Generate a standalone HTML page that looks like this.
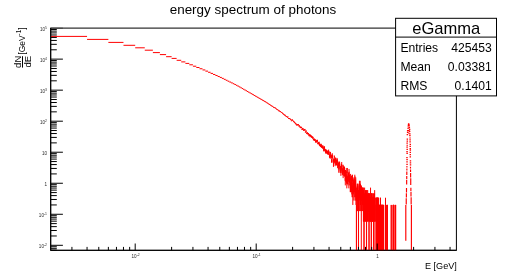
<!DOCTYPE html>
<html><head><meta charset="utf-8"><title>energy spectrum of photons</title>
<style>
html,body{margin:0;padding:0;background:#fff;}
body{width:507px;height:278px;overflow:hidden;}
svg{display:block;}
text{font-family:"Liberation Sans",sans-serif;fill:#000;}
.tl text{fill:#2a2a2a;}
</style></head><body>
<svg width="507" height="278" viewBox="0 0 507 278">
<rect width="507" height="278" fill="#fff"/>
<rect x="50.7" y="28.1" width="405.70" height="222.20" fill="none" stroke="#000" stroke-width="1"/>
<path d="M50.62 36.40H87.05M87.05 39.40H108.36M108.36 42.40H123.47M123.47 45.30H135.20M135.20 47.80H144.78M144.78 50.20H152.88M152.88 52.60H159.90M159.90 54.60H166.09M166.09 56.70H171.62M171.62 58.40H176.63M176.63 60.30H181.21M181.21 61.90H185.41M185.41 63.40H189.31M189.31 64.80H192.93M192.93 66.20H196.32M196.32 67.50H199.51M199.51 68.76H202.51M202.51 69.95H205.35M205.35 71.11H208.05M208.05 72.28H210.61M210.61 73.40H213.06M213.06 74.47H215.39M215.39 75.49H217.63M217.63 76.47H219.78M219.78 77.41H221.84M221.84 78.37H223.82M223.82 79.34H225.73M225.73 80.28H227.57M227.57 81.19H229.36M229.36 82.06H231.08M231.08 82.91H232.75M232.75 83.73H234.36M234.36 84.53H235.93M235.93 85.30H237.46M237.46 86.10H238.94M238.94 86.94H240.38M240.38 87.75H241.78M241.78 88.54H243.14M243.14 89.31H244.47M244.47 90.06H245.77M245.77 90.80H247.04M247.04 91.51H248.27M248.27 92.21H249.48M249.48 92.90H250.66M250.66 93.57H251.82M251.82 94.22H252.95M252.95 94.86H254.05M254.05 95.50H255.14M255.14 96.12H256.20M256.20 96.73H257.24M257.24 97.33H258.26M258.26 97.91H259.26M259.26 98.49H260.24M260.24 99.06H261.21M261.21 99.61H262.16M262.16 100.15H263.09M263.09 100.69H264.00M264.00 101.22H264.90M264.90 101.73H265.78M265.78 102.28H266.65M266.65 102.85H267.50M267.50 103.42H268.34M268.34 103.97H269.17M269.17 104.52H269.99M269.99 105.06H270.79M270.79 105.59H271.58M271.58 106.11H272.36M272.36 106.46H273.13M273.13 107.23H273.88M273.88 107.65H274.63M274.63 107.72H275.36M275.36 108.31H276.09M276.09 109.02H276.80M276.80 109.48H277.51M277.51 109.89H278.20M278.20 110.76H278.89M278.89 110.79H279.57M279.57 111.54H280.24M280.24 111.52H280.90M280.90 112.39H281.55M281.55 112.54H282.20M282.20 113.25H282.83M282.83 113.80H283.46M283.46 114.52H284.08M284.08 114.95H284.70M284.70 115.15H285.31M285.31 115.75H285.91M285.91 116.58H286.50M286.50 116.47H287.09M287.09 117.28H287.67M287.67 116.93H288.24M288.24 118.35H288.81M288.81 118.59H289.37M289.37 118.47H289.93M289.93 119.07H290.48M290.48 119.60H291.02M291.02 120.78H291.56M291.56 120.04H292.10M292.10 119.86H292.62M292.62 120.56H293.15M293.15 121.66H293.67M293.67 121.45H294.18M294.18 122.40H294.69M294.69 122.78H295.19M295.19 123.75H295.69M295.69 123.67H296.18M296.18 124.87H296.67M296.67 124.73H297.15M297.15 124.69H297.63M297.63 124.94H298.11M298.11 124.52H298.58M298.58 125.92H299.05M299.05 125.60H299.51M299.51 126.75H299.97M299.97 127.06H300.42M300.42 127.42H300.88M300.88 127.83H301.32M301.32 127.33H301.77M301.77 129.47H302.21M302.21 128.46H302.64M302.64 129.37H303.07M303.07 128.98H303.50M303.50 130.37H303.93M303.93 129.98H304.35M304.35 129.87H304.77M304.77 129.49H305.18M305.18 132.13H305.60M305.60 131.03H306.01M306.01 131.17H306.41M306.41 133.11H306.81M306.81 133.44H307.21M307.21 132.82H307.61M307.61 133.67H308.00M308.00 134.16H308.40M308.40 133.64H308.78M308.78 135.49H309.17M309.17 135.30H309.55M309.55 134.74H309.93M309.93 136.50H310.31M310.31 135.38H310.68M310.68 135.73H311.05M311.05 136.25H311.42M311.42 136.89H311.79M311.79 137.19H312.15M312.15 137.10H312.51M312.51 138.01H312.87M312.87 137.55H313.23M313.23 139.45H313.58M313.58 139.55H313.93M313.93 139.14H314.28M314.28 139.87H314.63M314.63 139.76H314.97M314.97 139.87H315.31M315.31 141.66H315.65M315.65 141.00H315.99M315.99 141.66H316.33M316.33 141.47H316.66M316.66 141.00H316.99M316.99 140.48H317.32M317.32 141.00H317.65M317.65 143.22H317.98M317.98 143.15H318.30M318.30 143.29H318.62M318.62 143.22H318.94M318.94 142.55H319.26M319.26 144.83H319.57M319.57 144.08H319.89M319.89 144.99H320.20M320.20 145.89H320.51M320.51 145.23H320.82M320.82 146.06H321.12M321.12 144.76H321.43M321.43 146.76H321.73M321.73 146.31H322.03M322.03 146.31H322.33M322.33 147.31H322.63M322.63 147.40H322.93M322.93 146.49H323.22M323.22 147.88H323.51M323.51 150.10H323.80M323.80 149.21H324.09M324.09 148.89H324.38M324.38 147.31H324.67M324.67 149.76H324.95M324.95 150.22H325.24M325.24 150.45H325.52M325.52 151.82H325.80M325.80 152.36H326.08M326.08 150.57H326.35M326.35 151.95H326.63M326.63 151.31H326.90M326.90 151.95H327.18M327.18 152.49H327.45M327.45 153.05H327.72M327.72 152.63H327.99M327.99 151.56H328.26M328.26 153.49H328.52M328.52 150.81H328.79M328.79 152.63H329.05M329.05 152.91H329.31M329.31 155.57H329.57M329.57 156.65H329.83M329.83 156.28H330.09M330.09 154.89H330.35M330.35 153.20H330.60M330.60 155.74H330.86M330.86 157.22H331.11M331.11 156.28H331.36M331.36 160.78H331.61M331.61 157.03H331.86M331.86 156.10H332.11M332.11 154.57H332.36M332.36 156.84H332.60M332.60 156.84H332.85M332.85 160.78H333.09M333.09 160.28H333.34M333.34 164.57H333.58M333.58 161.83H333.82M333.82 160.52H334.06M334.06 160.03H334.30M334.30 157.03H334.53M334.53 160.52H334.77M334.77 161.29H335.00M335.00 163.91H335.24M335.24 160.03H335.47M335.47 159.10H335.70M335.70 162.98H335.93M335.93 162.68H336.16M336.16 161.83H336.39M336.39 163.28H336.62M336.62 161.29H336.85M336.85 159.56H337.07M337.07 160.28H337.30M337.30 161.56H337.52M337.52 165.62H337.75M337.75 162.98H337.97M337.97 164.24H338.19M338.19 166.76H338.41M338.41 164.91H338.63M338.63 169.86H338.85M338.85 164.24H339.07M339.07 166.76H339.28M339.28 163.59H339.50M339.50 163.59H339.71M339.71 165.62H339.93M339.93 169.86H340.14M340.14 168.00H340.35M340.35 168.44H340.56M340.56 169.86H340.78M340.78 172.62H340.99M340.99 169.86H341.19M341.19 168.00H341.40M341.40 165.99H341.61M341.61 163.91H341.82M341.82 167.16H342.02M342.02 170.37H342.23M342.23 172.03H342.43M342.43 170.90H342.63M342.63 171.45H342.84M342.84 166.76H343.04M343.04 174.60H343.24M343.24 167.58H343.44M343.44 169.37H343.64M343.64 172.62H343.84M343.84 170.37H344.04M344.04 168.44H344.23M344.23 173.25H344.43M344.43 169.37H344.62M344.62 173.25H344.82M344.82 172.62H345.01M345.01 176.92H345.21M345.21 180.79H345.40M345.40 172.62H345.59M345.59 174.60H345.78M345.78 177.79H345.97M345.97 176.92H346.16M346.16 170.37H346.35M346.35 178.72H346.54M346.54 173.91H346.73M346.73 183.25H346.92M346.92 179.71H347.10M347.10 179.71H347.29M347.29 170.37H347.48M347.48 179.71H347.66M347.66 175.33H347.84M347.84 180.79H348.03M348.03 176.92H348.21M348.21 177.79H348.39M348.39 175.33H348.57M348.57 176.10H348.76M348.76 183.25H348.94M348.94 171.45H349.12M349.12 174.60H349.29M349.29 177.79H349.47M349.47 177.79H349.65M349.65 178.72H349.83M349.83 180.79H350.00M350.00 180.79H350.18M350.18 186.26H350.36M350.36 186.26H350.53M350.53 176.92H350.71M350.71 184.67H350.88M350.88 183.25H351.05M351.05 186.26H351.22M351.22 186.26H351.40M351.40 178.72H351.57M351.57 181.97H351.74M351.74 188.06H351.91M351.91 179.71H352.08M352.08 190.13H352.25M352.25 190.13H352.42M352.42 177.79H352.59M352.59 186.26H352.75M352.75 195.60H352.92M352.92 183.25H353.09M353.09 180.79H353.25M353.25 188.06H353.42M353.42 186.26H353.58M353.58 183.25H353.75M353.75 192.59H353.91M353.91 184.67H354.08M354.08 181.97H354.24M354.24 190.13H354.40M354.40 186.26H354.56M354.56 184.67H354.72M354.72 177.79H354.88M354.88 179.71H355.05M355.05 192.59H355.21M355.21 190.13H355.36M355.36 186.26H355.52M355.52 183.25H355.68M355.68 180.79H355.84M355.84 192.59H356.00M356.00 195.60H356.16M356.16 195.60H356.31M356.31 214.28H356.47M356.47 214.28H356.62M356.62 192.59H356.78M356.78 199.47H356.93M356.93 190.13H357.09M357.09 188.06H357.24M357.24 192.59H357.40M357.40 188.06H357.55M357.55 199.47H357.70M357.70 192.59H357.85M357.85 199.47H358.00M358.00 188.06H358.16M358.16 195.60H358.31M358.46 214.28H358.61M358.61 195.60H358.76M358.76 199.47H358.91M358.91 190.13H359.05M359.05 199.47H359.20M359.20 188.06H359.35M359.35 184.67H359.50M359.50 190.13H359.64M359.64 192.59H359.79M359.79 199.47H359.94M359.94 190.13H360.08M360.08 184.67H360.23M360.23 190.13H360.37M360.37 188.06H360.52M360.52 195.60H360.66M360.66 199.47H360.81M360.81 190.13H360.95M360.95 195.60H361.09M361.09 199.47H361.23M361.23 214.28H361.38M361.38 190.13H361.52M361.66 199.47H361.80M361.80 192.59H361.94M361.94 192.59H362.08M362.08 195.60H362.22M362.22 192.59H362.36M362.36 192.59H362.50M362.50 199.47H362.64M362.64 195.60H362.78M362.78 195.60H362.92M362.92 195.60H363.05M363.05 192.59H363.19M363.19 195.60H363.33M363.33 204.94H363.47M363.47 204.94H363.60M363.60 192.59H363.74M363.74 199.47H363.87M363.87 214.28H364.01M364.01 214.28H364.14M364.14 204.94H364.28M364.28 204.94H364.41M364.41 204.94H364.55M364.55 192.59H364.68M364.68 199.47H364.81M364.81 199.47H364.95M365.08 195.60H365.21M365.21 199.47H365.34M365.34 204.94H365.47M365.47 195.60H365.61M365.61 204.94H365.74M365.87 204.94H366.00M366.00 204.94H366.13M366.13 199.47H366.26M366.26 195.60H366.39M366.39 214.28H366.51M366.51 214.28H366.64M366.64 199.47H366.77M366.77 195.60H366.90M366.90 204.94H367.03M367.03 195.60H367.15M367.15 199.47H367.28M367.41 204.94H367.53M367.66 195.60H367.79M367.79 204.94H367.91M368.04 204.94H368.16M368.16 204.94H368.29M368.29 199.47H368.41M368.41 199.47H368.54M368.66 199.47H368.78M368.78 199.47H368.91M368.91 214.28H369.03M369.03 214.28H369.15M369.27 199.47H369.40M369.40 204.94H369.52M369.52 199.47H369.64M369.76 204.94H369.88M369.88 204.94H370.00M370.00 204.94H370.12M370.36 204.94H370.48M370.48 192.59H370.60M370.72 204.94H370.84M370.84 204.94H370.96M370.96 204.94H371.08M371.19 214.28H371.31M371.31 214.28H371.43M371.43 199.47H371.55M371.55 204.94H371.66M371.66 199.47H371.78M371.78 204.94H371.90M371.90 199.47H372.01M372.01 204.94H372.13M372.13 199.47H372.24M372.24 204.94H372.36M372.36 204.94H372.47M372.47 204.94H372.59M372.93 204.94H373.05M373.05 199.47H373.16M373.16 204.94H373.27M373.39 199.47H373.50M373.50 204.94H373.61M373.61 214.28H373.72M373.72 214.28H373.84M373.84 214.28H373.95M374.17 204.94H374.28M374.39 204.94H374.50M374.50 199.47H374.62M374.62 195.60H374.73M374.73 204.94H374.84M374.84 204.94H374.95M375.82 204.94H375.92M375.92 204.94H376.03M376.03 214.28H376.14M376.14 214.28H376.25M376.25 214.28H376.35M376.35 204.94H376.46M376.46 214.28H376.57M376.57 204.94H376.67M376.67 214.28H376.78M376.78 204.94H376.88M376.88 214.28H376.99M376.99 204.94H377.09M377.09 214.28H377.20M377.20 204.94H377.30M377.30 214.28H377.41M377.41 204.94H377.51M377.51 214.28H377.62M377.62 204.94H377.72M377.72 204.94H377.83M377.83 214.28H377.93M377.93 204.94H378.03M378.03 214.28H378.14M378.14 204.94H378.24M378.24 214.28H378.34M378.34 204.94H378.45M378.45 214.28H378.55M378.55 214.28H378.65M378.65 214.28H378.75M378.75 214.28H378.86M378.86 214.28H378.96M378.96 214.28H379.06M379.06 214.28H379.16M379.16 214.28H379.26M379.26 214.28H379.36M379.36 214.28H379.46M379.46 214.28H379.56M379.56 214.28H379.66M379.66 214.28H379.76M379.76 214.28H379.86M379.86 214.28H379.96M379.96 214.28H380.06M380.06 214.28H380.16M380.16 214.28H380.26M380.26 204.94H380.36M380.36 214.28H380.46M380.46 204.94H380.56M380.56 214.28H380.66M380.66 214.28H380.76M380.76 214.28H380.85M380.85 214.28H380.95M380.95 214.28H381.05M381.05 214.28H381.15M381.15 214.28H381.24M381.24 214.28H381.34M381.34 214.28H381.44M381.44 214.28H381.54M381.54 214.28H381.63M381.63 214.28H381.73M381.73 214.28H381.82M381.82 214.28H381.92M381.92 214.28H382.02M382.02 214.28H382.11M382.11 214.28H382.21M382.21 214.28H382.30M382.30 214.28H382.40M382.40 214.28H382.49M382.49 214.28H382.59M382.59 214.28H382.68M382.68 214.28H382.78M382.78 214.28H382.87M382.87 214.28H382.97M382.97 214.28H383.06M383.06 214.28H383.16M383.16 214.28H383.25M383.25 214.28H383.34M383.34 214.28H383.44M383.44 214.28H383.53M385.27 214.28H385.36M385.36 214.28H385.45M385.45 204.94H385.54M385.54 214.28H385.63M385.63 214.28H385.72M386.87 214.28H386.96M386.96 214.28H387.04M387.04 214.28H387.13M387.13 214.28H387.22M387.22 214.28H387.30M387.30 214.28H387.39M387.39 214.28H387.48M391.15 214.28H391.23M391.23 214.28H391.31M393.13 214.28H393.20M393.20 214.28H393.28M393.28 214.28H393.36M393.36 214.28H393.44M393.44 214.28H393.51M393.51 214.28H393.59M393.59 214.28H393.67M393.67 214.28H393.74M393.74 214.28H393.82M393.82 214.28H393.90M395.40 214.28H395.48M395.48 214.28H395.55M395.55 214.28H395.63M395.63 214.28H395.70M129.66 45.27V45.33M140.21 47.77V47.83M148.99 50.17V50.23M156.51 52.57V52.63M163.08 54.56V54.64M168.93 56.66V56.74M174.19 58.36V58.44M178.97 60.26V60.34M183.35 61.85V61.95M187.40 63.35V63.45M191.15 64.75V64.85M194.65 66.14V66.26M197.94 67.44V67.56M201.03 68.70V68.82M203.95 69.88V70.01M206.72 71.04V71.18M209.35 72.21V72.35M211.85 73.33V73.47M214.24 74.39V74.54M216.52 75.41V75.57M218.71 76.39V76.55M220.82 77.32V77.49M222.84 78.28V78.46M224.78 79.25V79.43M226.66 80.19V80.37M228.47 81.09V81.28M230.22 81.96V82.16M231.92 82.81V83.01M233.56 83.63V83.84M235.16 84.42V84.64M236.70 85.19V85.41M238.20 85.99V86.22M239.66 86.82V87.06M241.08 87.63V87.87M242.47 88.42V88.67M243.81 89.18V89.44M245.13 89.93V90.20M246.41 90.66V90.94M247.66 91.37V91.66M248.88 92.07V92.36M250.08 92.75V93.05M251.24 93.41V93.72M252.39 94.06V94.38M253.50 94.70V95.02M254.60 95.33V95.66M255.67 95.95V96.29M256.72 96.56V96.90M257.75 97.15V97.50M258.76 97.74V98.10M259.76 98.31V98.68M260.73 98.87V99.24M261.68 99.42V99.80M262.62 99.96V100.35M263.54 100.49V100.89M264.45 101.01V101.42M265.34 101.53V101.94M266.22 102.07V102.49M267.08 102.64V103.07M267.93 103.20V103.64M268.76 103.75V104.20M269.58 104.29V104.75M270.39 104.83V105.30M271.19 105.35V105.83M271.97 105.87V106.36M272.74 106.21V106.71M273.50 106.98V107.48M274.26 107.40V107.91M275.00 107.46V107.98M275.73 108.05V108.58M276.45 108.75V109.30M277.16 109.21V109.76M277.86 109.61V110.17M278.55 110.47V111.05M279.23 110.51V111.09M279.90 111.24V111.84M280.57 111.22V111.82M281.23 112.09V112.70M281.87 112.23V112.85M282.52 112.94V113.58M283.15 113.48V114.13M283.77 114.19V114.85M284.39 114.62V115.29M285.00 114.82V115.50M285.61 115.41V116.11M286.20 116.22V116.94M286.80 116.12V116.84M287.38 116.91V117.65M287.96 116.57V117.30M288.53 117.97V118.73M289.09 118.21V118.98M289.65 118.09V118.86M290.21 118.69V119.47M290.75 119.21V120.01M291.29 120.37V121.20M291.83 119.64V120.46M292.36 119.46V120.27M292.89 120.15V120.98M293.41 121.23V122.10M293.92 121.02V121.89M294.43 121.96V122.86M294.94 122.33V123.24M295.44 123.29V124.23M295.93 123.21V124.14M296.43 124.39V125.37M296.91 124.25V125.22M297.39 124.22V125.19M297.87 124.46V125.44M298.34 124.05V125.01M298.81 125.42V126.44M299.28 125.11V126.11M299.74 126.23V127.28M300.20 126.54V127.60M300.65 126.89V127.96M301.10 127.29V128.39M301.54 126.81V127.88M301.99 128.90V130.06M302.42 127.91V129.03M302.86 128.80V129.96M303.29 128.42V129.56M303.72 129.78V130.98M304.14 129.40V130.58M304.56 129.30V130.47M304.98 128.93V130.09M305.39 131.51V132.79M305.80 130.42V131.65M306.21 130.56V131.80M306.61 132.46V133.79M307.01 132.78V134.13M307.41 132.18V133.49M307.81 133.01V134.37M308.20 133.49V134.87M308.59 132.98V134.33M308.98 134.79V136.24M309.36 134.60V136.04M309.74 134.05V135.46M310.12 135.77V137.28M310.49 134.67V136.12M310.87 135.02V136.48M311.24 135.53V137.02M311.60 136.14V137.67M311.97 136.44V137.99M312.33 136.36V137.90M312.69 137.24V138.83M313.05 136.79V138.36M313.40 138.63V140.31M313.76 138.74V140.42M314.11 138.33V139.99M314.45 139.05V140.75M314.80 138.94V140.64M315.14 139.05V140.75M315.48 140.77V142.60M315.82 140.14V141.91M316.16 140.77V142.60M316.50 140.60V142.41M316.83 140.14V141.91M317.16 139.63V141.38M317.49 140.14V141.91M317.81 142.29V144.22M318.14 142.22V144.15M318.46 142.36V144.29M318.78 142.29V144.22M319.10 141.64V143.52M319.42 143.85V145.90M319.73 143.12V145.11M320.04 144.00V146.06M320.35 144.86V147.00M320.66 144.23V146.31M320.97 145.02V147.17M321.28 143.77V145.82M321.58 145.70V147.90M321.88 145.27V147.44M322.18 145.27V147.44M322.48 146.23V148.48M322.78 146.32V148.58M323.07 145.44V147.63M323.37 146.78V149.08M323.66 148.91V151.41M323.95 148.06V150.48M324.24 147.75V150.14M324.52 146.23V148.48M324.81 148.59V151.05M325.09 149.02V151.53M325.38 149.25V151.78M325.66 150.56V153.22M325.94 151.06V153.78M326.22 149.36V151.90M326.49 150.68V153.36M326.77 150.06V152.68M327.04 150.68V153.36M327.31 151.20V153.93M327.58 151.73V154.52M327.85 151.33V154.07M328.12 150.31V152.95M328.39 152.15V154.98M328.65 149.59V152.16M328.92 151.33V154.07M329.18 151.60V154.37M329.44 154.12V157.19M329.70 155.15V158.34M329.96 154.80V157.94M330.22 153.48V156.47M330.47 151.87V154.67M330.73 154.29V157.37M330.98 155.69V158.95M331.24 154.80V157.94M331.49 159.04V162.77M331.74 155.51V158.74M331.99 154.62V157.75M332.24 153.17V156.13M332.48 155.32V158.54M332.73 155.32V158.54M332.97 159.04V162.77M333.22 158.57V162.23M333.46 162.59V166.89M333.70 160.03V163.91M333.94 158.80V162.50M334.18 158.34V161.97M334.41 155.51V158.74M334.65 158.80V162.50M334.89 159.53V163.33M335.12 161.98V166.17M335.36 158.34V161.97M335.59 157.47V160.97M335.82 161.11V165.16M336.05 160.83V164.83M336.28 160.03V163.91M336.51 161.39V165.49M336.74 159.53V163.33M336.96 157.90V161.46M337.19 158.57V162.23M337.41 159.78V163.62M337.64 163.57V168.04M337.86 161.11V165.16M338.08 162.28V166.52M338.30 164.63V169.29M338.52 162.91V167.26M338.74 167.49V172.75M338.96 162.28V166.52M339.17 164.63V169.29M339.39 161.68V165.82M339.61 161.68V165.82M339.82 163.57V168.04M340.03 167.49V172.75M340.25 165.78V170.67M340.46 166.19V171.16M340.67 167.49V172.75M340.88 170.02V175.86M341.09 167.49V172.75M341.30 165.78V170.67M341.51 163.91V168.44M341.71 161.98V166.17M341.92 165.00V169.74M342.12 167.96V173.32M342.33 169.47V175.18M342.53 168.44V173.91M342.74 168.95V174.53M342.94 164.63V169.29M343.14 171.82V178.11M343.34 165.38V170.20M343.54 167.04V172.20M343.74 170.02V175.86M343.94 167.96V173.32M344.13 166.19V171.16M344.33 170.59V176.57M344.53 167.04V172.20M344.72 170.59V176.57M344.92 170.02V175.86M345.11 173.91V180.79M345.30 177.38V185.38M345.50 170.02V175.86M345.69 171.82V178.11M345.88 174.69V181.81M346.07 173.91V180.79M346.26 167.96V173.32M346.45 175.52V182.91M346.64 171.19V177.32M346.82 179.55V188.37M347.01 176.42V184.09M347.20 176.42V184.09M347.38 167.96V173.32M347.57 176.42V184.09M347.75 172.48V178.95M347.94 177.38V185.38M348.12 173.91V180.79M348.30 174.69V181.81M348.48 172.48V178.95M348.67 173.17V179.84M348.85 179.55V188.37M349.03 168.95V174.53M349.21 171.82V178.11M349.38 174.69V181.81M349.56 174.69V181.81M349.74 175.52V182.91M349.92 177.38V185.38M350.09 177.38V185.38M350.27 182.18V192.14M350.44 182.18V192.14M350.62 173.91V180.79M350.79 180.79V190.13M350.97 179.55V188.37M351.14 182.18V192.14M351.31 182.18V192.14M351.48 175.52V182.91M351.65 178.41V186.80M351.82 183.74V194.45M351.99 176.42V184.09M352.16 185.52V197.20M352.33 185.52V197.20M352.50 174.69V181.81M352.67 182.18V192.14M352.84 190.13V204.94M353.00 179.55V188.37M353.17 177.38V185.38M353.34 183.74V194.45M353.50 182.18V192.14M353.67 179.55V188.37M353.83 187.61V200.58M353.99 180.79V190.13M354.16 178.41V186.80M354.32 185.52V197.20M354.48 182.18V192.14M354.64 180.79V190.13M354.80 174.69V181.81M354.97 176.42V184.09M355.13 187.61V200.58M355.29 185.52V197.20M355.44 182.18V192.14M355.60 179.55V188.37M355.76 177.38V185.38M355.92 187.61V200.58M356.08 190.13V204.94M356.23 190.13V204.94M356.39 204.94V250.30M356.55 204.94V250.30M356.70 187.61V200.58M356.86 193.33V211.08M357.01 185.52V197.20M357.16 183.74V194.45M357.32 187.61V200.58M357.47 183.74V194.45M357.62 193.33V211.08M357.78 187.61V200.58M357.93 193.33V211.08M358.08 183.74V194.45M358.23 190.13V204.94M358.53 204.94V250.30M358.68 190.13V204.94M358.83 193.33V211.08M358.98 185.52V197.20M359.13 193.33V211.08M359.28 183.74V194.45M359.42 180.79V190.13M359.57 185.52V197.20M359.72 187.61V200.58M359.86 193.33V211.08M360.01 185.52V197.20M360.16 180.79V190.13M360.30 185.52V197.20M360.45 183.74V194.45M360.59 190.13V204.94M360.73 193.33V211.08M360.88 185.52V197.20M361.02 190.13V204.94M361.16 193.33V211.08M361.31 204.94V250.30M361.45 185.52V197.20M361.73 193.33V211.08M361.87 187.61V200.58M362.01 187.61V200.58M362.15 190.13V204.94M362.29 187.61V200.58M362.43 187.61V200.58M362.57 193.33V211.08M362.71 190.13V204.94M362.85 190.13V204.94M362.99 190.13V204.94M363.12 187.61V200.58M363.26 190.13V204.94M363.40 197.73V221.49M363.53 197.73V221.49M363.67 187.61V200.58M363.81 193.33V211.08M363.94 204.94V250.30M364.08 204.94V250.30M364.21 197.73V221.49M364.35 197.73V221.49M364.48 197.73V221.49M364.61 187.61V200.58M364.75 193.33V211.08M364.88 193.33V211.08M365.14 190.13V204.94M365.28 193.33V211.08M365.41 197.73V221.49M365.54 190.13V204.94M365.67 197.73V221.49M365.93 197.73V221.49M366.06 197.73V221.49M366.19 193.33V211.08M366.32 190.13V204.94M366.45 204.94V250.30M366.58 204.94V250.30M366.71 193.33V211.08M366.84 190.13V204.94M366.96 197.73V221.49M367.09 190.13V204.94M367.22 193.33V211.08M367.47 197.73V221.49M367.72 190.13V204.94M367.85 197.73V221.49M368.10 197.73V221.49M368.23 197.73V221.49M368.35 193.33V211.08M368.47 193.33V211.08M368.72 193.33V211.08M368.84 193.33V211.08M368.97 204.94V250.30M369.09 204.94V250.30M369.34 193.33V211.08M369.46 197.73V221.49M369.58 193.33V211.08M369.82 197.73V221.49M369.94 197.73V221.49M370.06 197.73V221.49M370.42 197.73V221.49M370.54 187.61V200.58M370.78 197.73V221.49M370.90 197.73V221.49M371.02 197.73V221.49M371.25 204.94V250.30M371.37 204.94V250.30M371.49 193.33V211.08M371.60 197.73V221.49M371.72 193.33V211.08M371.84 197.73V221.49M371.95 193.33V211.08M372.07 197.73V221.49M372.19 193.33V211.08M372.30 197.73V221.49M372.42 197.73V221.49M372.53 197.73V221.49M372.99 197.73V221.49M373.10 193.33V211.08M373.22 197.73V221.49M373.44 193.33V211.08M373.56 197.73V221.49M373.67 204.94V250.30M373.78 204.94V250.30M373.89 204.94V250.30M374.23 197.73V221.49M374.45 197.73V221.49M374.56 193.33V211.08M374.67 190.13V204.94M374.78 197.73V221.49M374.89 197.73V221.49M375.87 197.73V221.49M375.98 197.73V221.49M376.08 204.94V250.30M376.19 204.94V250.30M376.30 204.94V250.30M376.41 197.73V221.49M376.51 204.94V250.30M376.62 197.73V221.49M376.72 204.94V250.30M376.83 197.73V221.49M376.94 204.94V250.30M377.04 197.73V221.49M377.15 204.94V250.30M377.25 197.73V221.49M377.36 204.94V250.30M377.46 197.73V221.49M377.57 204.94V250.30M377.67 197.73V221.49M377.77 197.73V221.49M377.88 204.94V250.30M377.98 197.73V221.49M378.09 204.94V250.30M378.19 197.73V221.49M378.29 204.94V250.30M378.39 197.73V221.49M378.50 204.94V250.30M378.60 204.94V250.30M378.70 204.94V250.30M378.80 204.94V250.30M378.91 204.94V250.30M379.01 204.94V250.30M379.11 204.94V250.30M379.21 204.94V250.30M379.31 204.94V250.30M379.41 204.94V250.30M379.51 204.94V250.30M379.61 204.94V250.30M379.71 204.94V250.30M379.81 204.94V250.30M379.91 204.94V250.30M380.01 204.94V250.30M380.11 204.94V250.30M380.21 204.94V250.30M380.31 197.73V221.49M380.41 204.94V250.30M380.51 197.73V221.49M380.61 204.94V250.30M380.71 204.94V250.30M380.80 204.94V250.30M380.90 204.94V250.30M381.00 204.94V250.30M381.10 204.94V250.30M381.20 204.94V250.30M381.29 204.94V250.30M381.39 204.94V250.30M381.49 204.94V250.30M381.58 204.94V250.30M381.68 204.94V250.30M381.78 204.94V250.30M381.87 204.94V250.30M381.97 204.94V250.30M382.07 204.94V250.30M382.16 204.94V250.30M382.26 204.94V250.30M382.35 204.94V250.30M382.45 204.94V250.30M382.54 204.94V250.30M382.64 204.94V250.30M382.73 204.94V250.30M382.83 204.94V250.30M382.92 204.94V250.30M383.01 204.94V250.30M383.11 204.94V250.30M383.20 204.94V250.30M383.30 204.94V250.30M383.39 204.94V250.30M383.48 204.94V250.30M385.32 204.94V250.30M385.41 204.94V250.30M385.50 197.73V221.49M385.59 204.94V250.30M385.67 204.94V250.30M386.91 204.94V250.30M387.00 204.94V250.30M387.09 204.94V250.30M387.17 204.94V250.30M387.26 204.94V250.30M387.35 204.94V250.30M387.43 204.94V250.30M391.19 204.94V250.30M391.27 204.94V250.30M393.16 204.94V250.30M393.24 204.94V250.30M393.32 204.94V250.30M393.40 204.94V250.30M393.47 204.94V250.30M393.55 204.94V250.30M393.63 204.94V250.30M393.70 204.94V250.30M393.78 204.94V250.30M393.86 204.94V250.30M395.44 204.94V250.30M395.52 204.94V250.30M395.59 204.94V250.30M395.66 204.94V250.30" fill="none" stroke="#f00" stroke-width="1"/>
<path d="M408.53 123.66V124.90M409.17 124.42V125.66M408.18 125.38V126.62M409.35 126.66V127.90M407.93 127.63V128.87M409.64 128.81V130.05M407.66 129.95V131.19M409.64 130.68V131.92M407.61 131.70V132.94M409.87 133.23V134.47M407.39 134.08V135.32M409.90 134.90V136.14M410.05 137.38V138.62M407.32 138.51V139.75M410.08 139.36V140.60M407.31 140.40V141.64M410.09 141.30V142.54M407.14 142.41V143.65M410.29 143.67V144.91M407.22 144.63V145.87M410.20 145.69V146.93M407.10 146.52V147.76M410.27 147.96V149.20M407.19 148.66V149.90M410.34 149.56V150.80M407.07 151.12V152.36M410.28 151.70V152.94M407.15 152.79V154.03M410.27 154.02V155.26M410.32 156.31V157.55M406.98 157.07V158.31M407.07 159.05V160.29M410.46 160.24V161.48M407.04 161.29V162.53M410.47 162.29V163.53M407.05 163.73V164.97M410.51 164.18V165.42M408.70 123.20V126.60M408.60 127.60V128.80M408.90 130.00V131.20M408.70 132.60V133.60" fill="none" stroke="#f00" stroke-width="1.45"/>
<path d="M406.92 166.00V167.50M406.88 168.60V170.40M406.81 171.50V175.00M406.74 176.00V179.00M406.66 179.80V184.60M406.50 188.00V192.50M406.38 193.30V197.50M406.24 198.30V204.50M410.49 166.80V168.40M410.55 169.50V172.00M410.62 173.00V177.40M410.73 178.20V184.90M410.88 187.80V191.00M410.99 191.80V196.40M411.15 197.20V204.50M405.80 204.94V240.80M411.40 204.94V250.30" fill="none" stroke="#f00" stroke-width="1.15"/>
<path d="M50.7 28.1V250.3H456.4" fill="none" stroke="#000" stroke-width="1"/>
<path d="M71.93 250.30V246.90M87.05 250.30V246.90M98.78 250.30V246.90M108.36 250.30V246.90M116.46 250.30V246.90M123.47 250.30V246.90M129.66 250.30V246.90M135.20 250.30V243.50M171.62 250.30V246.90M192.93 250.30V246.90M208.05 250.30V246.90M219.78 250.30V246.90M229.36 250.30V246.90M237.46 250.30V246.90M244.47 250.30V246.90M250.66 250.30V246.90M256.20 250.30V243.50M292.62 250.30V246.90M313.93 250.30V246.90M329.05 250.30V246.90M340.78 250.30V246.90M350.36 250.30V246.90M358.46 250.30V246.90M365.47 250.30V246.90M371.66 250.30V246.90M377.20 250.30V243.50M413.62 250.30V246.90M434.93 250.30V246.90M450.05 250.30V246.90M50.70 250.12H56.80M50.70 248.32H56.80M50.70 246.73H56.80M50.70 245.31H62.90M50.70 235.97H56.80M50.70 230.50H56.80M50.70 226.63H56.80M50.70 223.62H56.80M50.70 221.16H56.80M50.70 219.09H56.80M50.70 217.29H56.80M50.70 215.70H56.80M50.70 214.28H62.90M50.70 204.94H56.80M50.70 199.47H56.80M50.70 195.60H56.80M50.70 192.59H56.80M50.70 190.13H56.80M50.70 188.06H56.80M50.70 186.26H56.80M50.70 184.67H56.80M50.70 183.25H62.90M50.70 173.91H56.80M50.70 168.44H56.80M50.70 164.57H56.80M50.70 161.56H56.80M50.70 159.10H56.80M50.70 157.03H56.80M50.70 155.23H56.80M50.70 153.64H56.80M50.70 152.22H62.90M50.70 142.88H56.80M50.70 137.41H56.80M50.70 133.54H56.80M50.70 130.53H56.80M50.70 128.07H56.80M50.70 126.00H56.80M50.70 124.20H56.80M50.70 122.61H56.80M50.70 121.19H62.90M50.70 111.85H56.80M50.70 106.38H56.80M50.70 102.51H56.80M50.70 99.50H56.80M50.70 97.04H56.80M50.70 94.97H56.80M50.70 93.17H56.80M50.70 91.58H56.80M50.70 90.16H62.90M50.70 80.82H56.80M50.70 75.35H56.80M50.70 71.48H56.80M50.70 68.47H56.80M50.70 66.01H56.80M50.70 63.94H56.80M50.70 62.14H56.80M50.70 60.55H56.80M50.70 59.13H62.90M50.70 49.79H56.80M50.70 44.32H56.80M50.70 40.45H56.80M50.70 37.44H56.80M50.70 34.98H56.80M50.70 32.91H56.80M50.70 31.11H56.80M50.70 29.52H56.80" fill="none" stroke="#000" stroke-width="1"/>
<path d="M50.70 28.10H62.90" fill="none" stroke="#000" stroke-width="1" stroke-opacity="0.45"/>
<g class="tl"><text x="47.00" y="247.91" text-anchor="end" font-size="4.60">10<tspan dy="-1.9" font-size="3.40">-2</tspan></text><text x="47.00" y="216.88" text-anchor="end" font-size="4.60">10<tspan dy="-1.9" font-size="3.40">-1</tspan></text><text x="47.00" y="185.85" text-anchor="end" font-size="4.60">1</text><text x="47.00" y="154.82" text-anchor="end" font-size="4.60">10</text><text x="47.00" y="123.79" text-anchor="end" font-size="4.60">10<tspan dy="-1.9" font-size="3.40">2</tspan></text><text x="47.00" y="92.76" text-anchor="end" font-size="4.60">10<tspan dy="-1.9" font-size="3.40">3</tspan></text><text x="47.00" y="61.73" text-anchor="end" font-size="4.60">10<tspan dy="-1.9" font-size="3.40">4</tspan></text><text x="47.00" y="30.70" text-anchor="end" font-size="4.60">10<tspan dy="-1.9" font-size="3.40">5</tspan></text><text x="135.60" y="257.90" text-anchor="middle" font-size="4.60">10<tspan dy="-1.9" font-size="3.40">-2</tspan></text><text x="256.60" y="257.90" text-anchor="middle" font-size="4.60">10<tspan dy="-1.9" font-size="3.40">-1</tspan></text><text x="377.60" y="257.90" text-anchor="middle" font-size="4.60">1</text></g>
<text x="253.0" y="13.7" text-anchor="middle" font-size="13.45">energy spectrum of photons</text>
<text x="456.8" y="268.6" text-anchor="end" font-size="9.1">E [GeV]</text>
<g transform="translate(25.3,27.4) rotate(-90) scale(0.92,1)" font-size="9.1">
<text x="0" y="0" text-anchor="end">[GeV<tspan dy="-3.9" font-size="7">-1</tspan><tspan dy="3.9">]</tspan></text>
</g>
<g transform="translate(25.5,61.8) rotate(-90)" font-size="9.5">
<text x="0" y="-4.3" text-anchor="middle">dN</text>
<text x="0" y="5.4" text-anchor="middle">dE</text>
<path d="M-5.8 -3.0H5.6" stroke="#000" stroke-width="1" fill="none"/>
</g>
<rect x="395.6" y="18.3" width="100.9" height="77.6" fill="#fff" stroke="#000" stroke-width="1"/>
<path d="M395.6 37.1H496.5" stroke="#000" stroke-width="1" fill="none"/>
<text x="446.3" y="33.9" text-anchor="middle" font-size="16.55">eGamma</text>
<g font-size="12.15">
<text x="400.4" y="51.8">Entries</text><text x="491.7" y="51.8" text-anchor="end">425453</text>
<text x="400.4" y="71.0">Mean</text><text x="491.7" y="71.0" text-anchor="end">0.03381</text>
<text x="400.4" y="90.1">RMS</text><text x="491.7" y="90.1" text-anchor="end">0.1401</text>
</g>
</svg>
</body></html>
